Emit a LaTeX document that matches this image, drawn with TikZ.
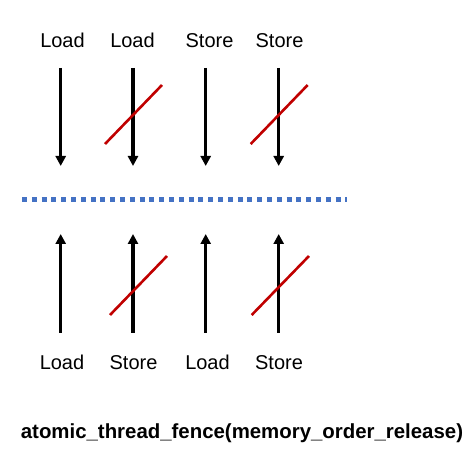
\documentclass[tikz,border=0pt]{standalone}
\usepackage{fontspec}
\setmainfont{Liberation Sans}
\usetikzlibrary{arrows.meta}
\definecolor{fenceblue}{RGB}{68,114,196}
\definecolor{crossred}{RGB}{192,0,0}
\tikzset{
  lbl/.style={font=\fontsize{20}{24}\selectfont, inner sep=0pt, anchor=base},
  title/.style={font=\bfseries\fontsize{20.4}{24}\selectfont, inner sep=0pt, anchor=base},
  flow/.style={line width=3.3pt, -{Triangle[width=10pt,length=10pt]}},
  cross/.style={line width=2.6pt, crossred},
  fence/.style={line width=5pt, fenceblue, dash pattern=on 5pt off 4.8pt}
}
\begin{document}
\begin{tikzpicture}[x=1pt,y=-1pt]
\useasboundingbox (0,0) rectangle (474,454);
% top labels
\node[lbl] (tl1) at (62.5,47.7) {Load};
\node[lbl] (tl2) at (132.5,47.7) {Load};
\node[lbl] (tl3) at (209.5,47.7) {Store};
\node[lbl] (tl4) at (279.5,47.7) {Store};
% top arrows
\foreach \i/\x in {1/60.7,2/133,3/205.7,4/278.7}{
  \coordinate (ts\i) at (\x,68);
  \coordinate (te\i) at (\x,166);
  \draw[flow] (ts\i) -- (te\i);
}
% top crosses
\coordinate (c1a) at (105,144); \coordinate (c1b) at (162,85);
\coordinate (c2a) at (250.7,144); \coordinate (c2b) at (307.7,85);
\draw[cross] (c1a) -- (c1b);
\draw[cross] (c2a) -- (c2b);
% fence
\coordinate (fa) at (22,200); \coordinate (fb) at (347,200);
\draw[fence] (fa) -- (fb);
% bottom arrows
\foreach \i/\x in {1/60.7,2/133,3/205.7,4/278.7}{
  \coordinate (bs\i) at (\x,333);
  \coordinate (be\i) at (\x,234);
  \draw[flow] (bs\i) -- (be\i);
}
% bottom crosses
\coordinate (c3a) at (110,315); \coordinate (c3b) at (167,256);
\coordinate (c4a) at (251.7,315); \coordinate (c4b) at (309,256);
\draw[cross] (c3a) -- (c3b);
\draw[cross] (c4a) -- (c4b);
% bottom labels
\node[lbl] (bl1) at (62,370) {Load};
\node[lbl] (bl2) at (133.5,370) {Store};
\node[lbl] (bl3) at (207.5,370) {Load};
\node[lbl] (bl4) at (279,370) {Store};
% title
\node[title] (ttl) at (242,438) {atomic\_thread\_fence(memory\_order\_release)};
\end{tikzpicture}
\end{document}
